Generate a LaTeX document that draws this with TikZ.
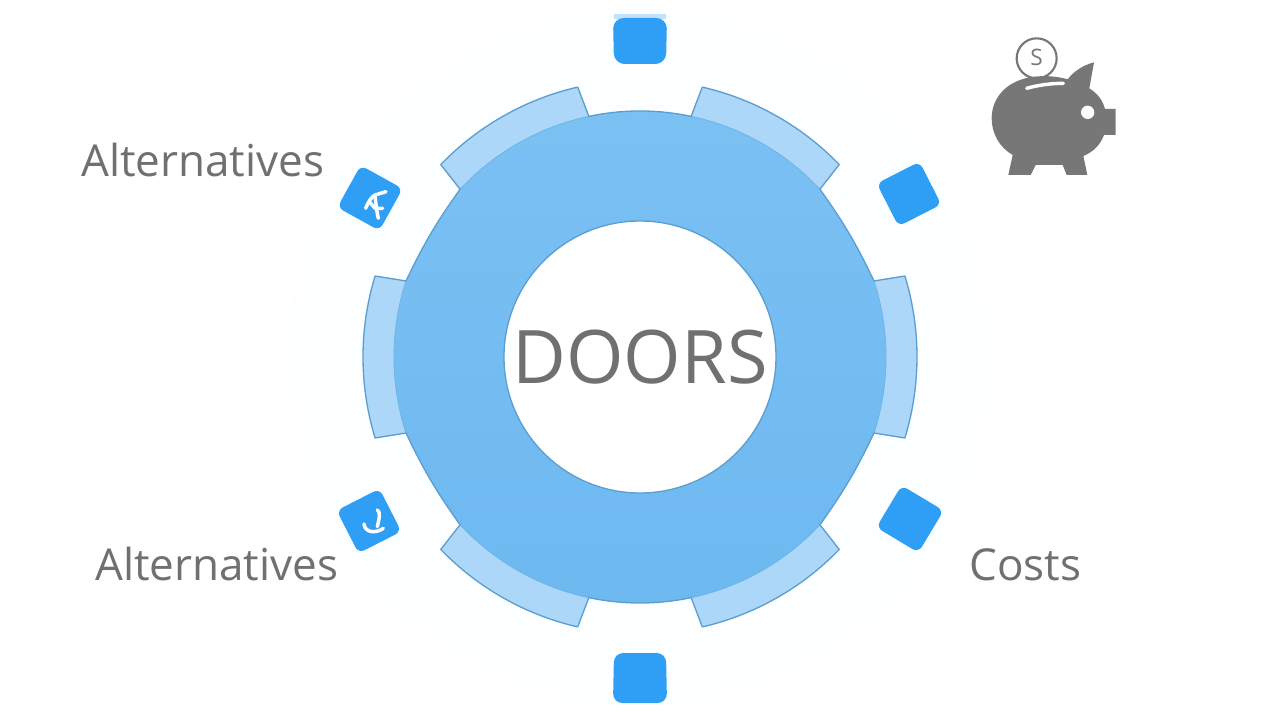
\documentclass[tikz,border=0pt]{standalone}
\usepackage{fontspec}
\setmainfont{Open Sans}
\definecolor{gearedge}{HTML}{5C9FCE}
\definecolor{tabfill}{HTML}{ACD7F8}
\definecolor{disctop}{HTML}{7BC0F3}
\definecolor{discbot}{HTML}{6DB9F0}
\definecolor{squareblue}{HTML}{2F9FF5}
\definecolor{txtgrey}{HTML}{707070}
\definecolor{piggrey}{HTML}{777777}
\definecolor{halo}{HTML}{FDFEFF}
\tikzset{
  label text/.style={text=txtgrey,inner sep=0pt,font=\fontsize{33}{36}\selectfont},
  square/.style={fill=squareblue,rounded corners=5pt,minimum size=0pt},
  glyph/.style={draw=white,line width=2.6pt,line cap=round,line join=round},
}
\begin{document}
\begin{tikzpicture}[x=0.75pt,y=0.75pt]
\useasboundingbox (-640,-363) rectangle (640,357);
\fill[white] (-640,-363) rectangle (640,357);
\fill[halo] (0,0) circle[radius=352];
% gear outline
\def\gearpath{(77:277) arc[start angle=77,end angle=44,radius=277]
 -- (43:246) to[bend left=5] (18:246)
 -- (17:277) arc[start angle=17,end angle=-17,radius=277]
 -- (-18:246) to[bend left=5] (-43:246)
 -- (-44:277) arc[start angle=-44,end angle=-77,radius=277]
 -- (-78:246) arc[start angle=-78,end angle=-102,radius=246]
 -- (-103:277) arc[start angle=-103,end angle=-136,radius=277]
 -- (-137:246) to[bend left=5] (-162:246)
 -- (-163:277) arc[start angle=-163,end angle=-197,radius=277]
 -- (-198:246) to[bend left=5] (-223:246)
 -- (-224:277) arc[start angle=-224,end angle=-257,radius=277]
 -- (-258:246) arc[start angle=-258,end angle=-282,radius=246] -- cycle}
\fill[tabfill] \gearpath;
\begin{scope}
\path[clip] \gearpath;
\shade[top color=disctop,bottom color=discbot,draw=gearedge!35!disctop,line width=0.6pt] (0,0) circle[radius=246];
\end{scope}
\draw[gearedge,line width=1pt,line join=round] \gearpath;
\draw[fill=white,draw=gearedge,line width=1pt] (0,0) circle[radius=136];
\node[text=txtgrey,inner sep=0pt,font=\fontsize{55.4}{58}\selectfont] (doors) at (0,0) {DOORS};
\node[label text,anchor=base west] (alt1) at (-559,180) {Alternatives};
\node[label text,anchor=base west] (alt2) at (-545,-223) {Alternatives};
\node[label text,anchor=base west] (costs) at (329,-223) {Costs};
% squares
\fill[squareblue!30] (-26,343) rectangle (26,338);
\fill[square,rounded corners=8pt] (-27,339) -- (27,339) -- (26,293) -- (-26,293) -- cycle;
\fill[square,rounded corners=7pt] (-26,-296) -- (26,-296) -- (27,-346) -- (-27,-346) -- cycle;
\fill[square,rotate around={27:(269,163)}] (245,139) rectangle (293,187);
\fill[square,rotate around={-31:(270,-162)}] (245.5,-186.5) rectangle (294.5,-137.5);
\fill[square,rotate around={-29:(-270,159)}] (-294,135) rectangle (-246,183);
\fill[square,rotate around={27:(-271,-164)}] (-295,-188) rectangle (-247,-140);
% icons
\begin{scope}[shift={(-320,217)},x=0.25pt,y=-0.25pt]
\draw[glyph] (137,205) .. controls (145,185) and (155,170) .. (165,165) -- (198,155);
\draw[glyph] (165,170) .. controls (168,190) and (170,215) .. (175,235);
\draw[glyph] (148,185) -- (165,205) -- (188,205);
\end{scope}
\begin{scope}[shift={(-320,-113)},x=0.25pt,y=-0.25pt]
\draw[glyph] (172,120) .. controls (182,125) and (178,145) .. (172,170);
\draw[glyph] (132,162) .. controls (135,190) and (170,190) .. (190,175);
\end{scope}
% piggy bank
\begin{scope}[shift={(330,337)},x=0.25pt,y=-0.25pt]
\draw[piggrey,fill=white,line width=1.6pt] (200,115) circle[radius=60];
\node[text=piggrey,inner sep=0pt,font=\fontsize{17}{18}\selectfont] (coin) at (200,113) {S};
\fill[piggrey] (128,405) -- (115,465) -- (182,465) -- (197,435) -- (278,435) -- (290,465) -- (352,465) -- (340,408)
  .. controls (372,395) and (392,372) .. (402,345) -- (437,345) -- (437,267) -- (405,267)
  .. controls (398,240) and (382,220) .. (358,205) -- (372,127)
  .. controls (340,135) and (310,155) .. (293,178)
  .. controls (250,165) and (190,165) .. (150,180)
  .. controls (95,200) and (65,245) .. (65,295)
  .. controls (65,340) and (88,382) .. (128,405) -- cycle;
\draw[white,line width=2.6pt,line cap=round] (170,205) .. controls (205,195) and (245,190) .. (280,190);
\fill[white] (353,277) circle[radius=20];
\end{scope}
\end{tikzpicture}
\end{document}
